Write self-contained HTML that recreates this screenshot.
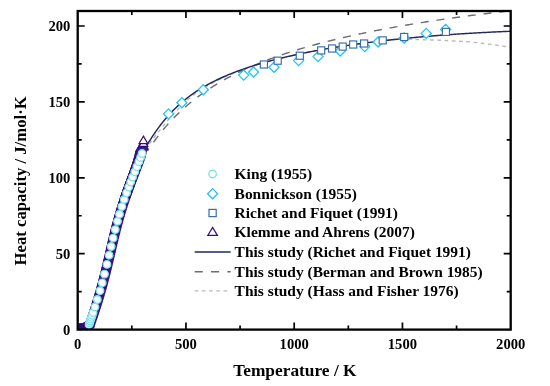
<!DOCTYPE html>
<html><head><meta charset="utf-8"><title>Heat capacity</title><style>html,body{margin:0;padding:0;background:#fff}svg{display:block}</style></head><body>
<svg width="550" height="386" viewBox="0 0 550 386" font-family="'Liberation Serif', 'Times New Roman', serif" font-weight="bold">
<rect width="550" height="386" fill="#fff"/>
<path d="M147.50,146.69 L149.33,144.07 L151.15,141.49 L152.98,138.96 L154.80,136.49 L156.63,134.10 L158.45,131.81 L160.28,129.59 L162.11,127.37 L163.93,125.11 L165.76,122.86 L167.58,120.66 L169.41,118.52 L171.23,116.43 L173.06,114.35 L174.88,112.32 L176.71,110.38 L178.54,108.48 L180.36,106.64 L182.19,104.85 L184.01,103.11 L185.84,101.43 L187.66,99.81 L189.49,98.25 L191.32,96.75 L193.14,95.32 L194.97,93.97 L196.79,92.67 L198.62,91.41 L200.44,90.20 L202.27,89.02 L204.09,87.88 L205.92,86.77 L207.75,85.70 L209.57,84.66 L211.40,83.65 L213.22,82.66 L215.05,81.71 L216.87,80.78 L218.70,79.87 L220.53,78.98 L222.35,78.11 L224.18,77.27 L226.00,76.44 L227.83,75.64 L229.65,74.85 L231.48,74.08 L233.30,73.32 L235.13,72.59 L236.96,71.87 L238.78,71.16 L240.61,70.47 L242.43,69.80 L244.26,69.14 L246.08,68.49 L247.91,67.86 L249.74,67.24 L251.56,66.64 L253.39,66.04 L255.21,65.46 L257.04,64.88 L258.86,64.32 L260.69,63.77 L262.51,63.22 L264.34,62.68 L266.17,62.16 L267.99,61.64 L269.82,61.13 L271.64,60.63 L273.47,60.14 L275.29,59.66 L277.12,59.18 L278.95,58.71 L280.77,58.25 L282.60,57.80 L284.42,57.35 L286.25,56.92 L288.07,56.48 L289.90,56.06 L291.72,55.64 L293.55,55.24 L295.38,54.83 L297.20,54.44 L299.03,54.05 L300.85,53.66 L302.68,53.29 L304.50,52.91 L306.33,52.55 L308.16,52.19 L309.98,51.83 L311.81,51.48 L313.63,51.13 L315.46,50.79 L317.28,50.45 L319.11,50.11 L320.93,49.78 L322.76,49.46 L324.59,49.14 L326.41,48.82 L328.24,48.51 L330.06,48.20 L331.89,47.90 L333.71,47.59 L335.54,47.30 L337.37,47.01 L339.19,46.72 L341.02,46.43 L342.84,46.15 L344.67,45.87 L346.49,45.60 L348.32,45.32 L350.14,45.06 L351.97,44.79 L353.80,44.53 L355.62,44.27 L357.45,44.02 L359.27,43.77 L361.10,43.52 L362.92,43.27 L364.75,43.03 L366.58,42.79 L368.40,42.56 L370.23,42.32 L372.05,42.09 L373.88,41.87 L375.70,41.64 L377.53,41.42 L379.35,41.20 L381.18,40.99 L383.01,40.77 L384.83,40.56 L386.66,40.35 L388.48,40.15 L390.31,39.95 L392.13,39.77 L393.96,39.64 L395.79,39.54 L397.61,39.47 L399.44,39.41 L401.26,39.37 L403.09,39.33 L404.91,39.29 L406.74,39.28 L408.56,39.31 L410.39,39.35 L412.22,39.40 L414.04,39.46 L415.87,39.51 L417.69,39.57 L419.52,39.65 L421.34,39.72 L423.17,39.79 L425.00,39.86 L426.82,39.91 L428.65,39.95 L430.47,39.99 L432.30,40.03 L434.12,40.07 L435.95,40.11 L437.77,40.17 L439.60,40.23 L441.43,40.30 L443.25,40.38 L445.08,40.46 L446.90,40.56 L448.73,40.66 L450.55,40.76 L452.38,40.86 L454.21,40.96 L456.03,41.06 L457.86,41.16 L459.68,41.27 L461.51,41.37 L463.33,41.48 L465.16,41.61 L466.98,41.74 L468.81,41.89 L470.64,42.05 L472.46,42.23 L474.29,42.41 L476.11,42.61 L477.94,42.81 L479.76,43.02 L481.59,43.24 L483.42,43.45 L485.24,43.68 L487.07,43.91 L488.89,44.15 L490.72,44.39 L492.54,44.64 L494.37,44.89 L496.19,45.15 L498.02,45.41 L499.85,45.67 L501.67,45.94 L503.50,46.22 L505.32,46.50 L507.15,46.78 L508.97,47.07 L510.80,47.37" fill="none" stroke="#b9b9b9" stroke-width="1.4" stroke-dasharray="3.7 3.56" stroke-dashoffset="3.85"/>
<path d="M147.80,150.38 L149.62,147.69 L151.45,145.07 L153.27,142.51 L155.10,140.01 L156.92,137.58 L158.74,135.21 L160.57,132.91 L162.39,130.66 L164.22,128.48 L166.04,126.35 L167.87,124.28 L169.69,122.26 L171.51,120.30 L173.34,118.39 L175.16,116.52 L176.99,114.71 L178.81,112.94 L180.63,111.21 L182.46,109.53 L184.28,107.89 L186.11,106.29 L187.93,104.72 L189.75,103.19 L191.58,101.70 L193.40,100.25 L195.23,98.82 L197.05,97.43 L198.88,96.07 L200.70,94.74 L202.52,93.44 L204.35,92.16 L206.17,90.91 L208.00,89.69 L209.82,88.49 L211.64,87.32 L213.47,86.17 L215.29,85.04 L217.12,83.94 L218.94,82.85 L220.76,81.79 L222.59,80.75 L224.41,79.72 L226.24,78.72 L228.06,77.73 L229.89,76.76 L231.71,75.81 L233.53,74.87 L235.36,73.95 L237.18,73.05 L239.01,72.16 L240.83,71.29 L242.65,70.43 L244.48,69.58 L246.30,68.75 L248.13,67.93 L249.95,67.13 L251.77,66.33 L253.60,65.55 L255.42,64.78 L257.25,64.03 L259.07,63.28 L260.90,62.54 L262.72,61.82 L264.54,61.11 L266.37,60.40 L268.19,59.71 L270.02,59.02 L271.84,58.35 L273.66,57.68 L275.49,57.03 L277.31,56.38 L279.14,55.74 L280.96,55.11 L282.78,54.49 L284.61,53.88 L286.43,53.27 L288.26,52.67 L290.08,52.08 L291.91,51.50 L293.73,50.92 L295.55,50.35 L297.38,49.79 L299.20,49.24 L301.03,48.69 L302.85,48.15 L304.67,47.61 L306.50,47.08 L308.32,46.56 L310.15,46.04 L311.97,45.53 L313.79,45.03 L315.62,44.53 L317.44,44.03 L319.27,43.55 L321.09,43.06 L322.92,42.59 L324.74,42.11 L326.56,41.65 L328.39,41.18 L330.21,40.73 L332.04,40.27 L333.86,39.82 L335.68,39.38 L337.51,38.94 L339.33,38.51 L341.16,38.08 L342.98,37.65 L344.81,37.23 L346.63,36.81 L348.45,36.40 L350.28,35.99 L352.10,35.59 L353.93,35.19 L355.75,34.79 L357.57,34.40 L359.40,34.01 L361.22,33.62 L363.05,33.24 L364.87,32.86 L366.69,32.48 L368.52,32.11 L370.34,31.74 L372.17,31.38 L373.99,31.02 L375.82,30.66 L377.64,30.30 L379.46,29.95 L381.29,29.60 L383.11,29.26 L384.94,28.91 L386.76,28.57 L388.58,28.24 L390.41,27.90 L392.23,27.57 L394.06,27.24 L395.88,26.92 L397.70,26.59 L399.53,26.27 L401.35,25.96 L403.18,25.64 L405.00,25.33 L406.83,25.02 L408.65,24.71 L410.47,24.40 L412.30,24.10 L414.12,23.80 L415.95,23.50 L417.77,23.21 L419.59,22.92 L421.42,22.62 L423.24,22.34 L425.07,22.05 L426.89,21.77 L428.71,21.48 L430.54,21.20 L432.36,20.93 L434.19,20.65 L436.01,20.38 L437.84,20.11 L439.66,19.84 L441.48,19.57 L443.31,19.30 L445.13,19.04 L446.96,18.78 L448.78,18.52 L450.60,18.26 L452.43,18.00 L454.25,17.75 L456.08,17.50 L457.90,17.25 L459.72,17.00 L461.55,16.75 L463.37,16.50 L465.20,16.26 L467.02,16.02 L468.85,15.78 L470.67,15.54 L472.49,15.30 L474.32,15.07 L476.14,14.83 L477.97,14.60 L479.79,14.37 L481.61,14.14 L483.44,13.91 L485.26,13.69 L487.09,13.46 L488.91,13.24 L490.73,13.02 L492.56,12.80 L494.38,12.58 L496.21,12.36 L498.03,12.14 L499.86,11.93 L501.68,11.72 L503.50,11.50 L505.33,11.29 L507.15,11.09 L508.98,10.88 L510.80,10.67" fill="none" stroke="#6e6e6e" stroke-width="1.4" stroke-dasharray="8 7.84" stroke-dashoffset="6.04"/>
<path d="M77.70,329.60 L78.79,329.60 L79.87,329.56 L80.96,329.47 L82.04,329.30 L83.13,329.01 L84.21,328.59 L85.30,328.00 L86.38,327.21 L87.47,326.19 L88.55,324.85 L89.64,322.94 L90.73,319.52 L91.81,316.31 L92.90,313.09 L93.98,309.84 L95.07,306.54 L96.15,303.19 L97.24,299.77 L98.32,296.26 L99.41,292.67 L100.49,288.96 L101.58,285.14 L102.67,281.20 L103.75,277.12 L104.84,272.91 L105.92,268.58 L107.01,264.13 L108.09,259.58 L109.18,254.96 L110.26,250.32 L111.35,245.68 L112.43,241.09 L113.52,236.60 L114.61,232.21 L115.69,227.96 L116.78,223.86 L117.86,219.91 L118.95,216.10 L120.03,212.44 L121.12,208.91 L122.20,205.50 L123.29,202.21 L124.37,199.02 L125.46,195.92 L126.55,192.90 L127.63,189.96 L128.72,187.08 L129.80,184.26 L130.89,181.49 L131.97,178.75 L133.06,176.04 L134.14,173.36 L135.23,170.69 L136.32,168.02 L137.40,165.35 L138.49,162.66 L139.57,159.95 L140.66,157.18 L141.74,154.28 L142.83,151.93 L143.91,150.01 L145.00,148.25 L146.08,146.48 L147.17,144.71 L148.26,142.96 L149.34,141.24 L150.43,139.53 L151.51,137.85 L152.60,136.20 L153.68,134.58 L154.77,132.98 L155.85,131.42 L156.94,129.88 L158.02,128.38 L159.11,126.90 L160.20,125.46 L161.28,124.05 L162.37,122.66 L163.45,121.31 L164.54,119.98 L165.62,118.69 L166.71,117.42 L167.79,116.18 L168.88,114.96 L169.96,113.77 L171.05,112.61 L172.14,111.48 L173.22,110.36 L174.31,109.28 L175.39,108.21 L176.48,107.17 L177.56,106.15 L178.65,105.15 L179.73,104.17 L180.82,103.22 L181.90,102.28 L182.99,101.36 L184.08,100.46 L185.16,99.58 L186.25,98.72 L187.33,97.87 L188.42,97.04 L189.50,96.23 L190.59,95.43 L191.67,94.65 L192.76,93.88 L193.84,93.13 L194.93,92.39 L196.02,91.66 L197.10,90.95 L198.19,90.25 L199.27,89.56 L200.36,88.89 L201.44,88.23 L202.53,87.58 L203.61,86.94 L204.70,86.31 L205.78,85.69 L206.87,85.08 L207.96,84.48 L209.04,83.89 L210.13,83.31 L211.21,82.74 L212.30,82.18 L213.38,81.63 L214.47,81.08 L215.55,80.55 L216.64,80.02 L217.72,79.50 L218.81,78.99 L219.90,78.48 L220.98,77.98 L222.07,77.49 L223.15,77.01 L224.24,76.53 L225.32,76.06 L226.41,75.60 L227.49,75.14 L228.58,74.69 L229.66,74.24 L230.75,73.80 L231.84,73.37 L232.92,72.94 L234.01,72.52 L235.09,72.10 L236.18,71.69 L237.26,71.28 L238.35,70.88 L239.43,70.48 L240.52,70.09 L241.61,69.70 L242.69,69.32 L243.78,68.94 L244.86,68.57 L245.95,68.20 L247.03,67.83 L248.12,67.47 L249.20,67.11 L250.29,66.76 L251.37,66.41 L252.46,66.07 L253.55,65.72 L254.63,65.38 L255.72,65.05 L256.80,64.72 L257.89,64.39 L258.97,64.07 L260.06,63.75 L261.14,63.43 L262.23,63.11 L263.31,62.80 L264.40,62.50 L265.49,62.19 L266.57,61.89 L267.66,61.59 L268.74,61.29 L269.83,61.00 L270.91,60.71 L272.00,60.42 L273.08,60.14 L274.17,59.85 L275.25,59.58 L276.34,59.30 L277.43,59.02 L278.51,58.75 L279.60,58.48 L280.68,58.22 L281.77,57.95 L282.85,57.69 L283.94,57.43 L285.02,57.17 L286.11,56.92 L287.19,56.66 L288.28,56.41 L289.37,56.17 L290.45,55.92 L291.54,55.68 L292.62,55.43 L293.71,55.19 L294.79,54.96 L295.88,54.72 L296.96,54.49 L298.05,54.25 L299.13,54.02 L300.22,53.80 L301.31,53.57 L302.39,53.35 L303.48,53.12 L304.56,52.90 L305.65,52.68 L306.73,52.47 L307.82,52.25 L308.90,52.04 L309.99,51.83 L311.07,51.62 L312.16,51.41 L313.25,51.20 L314.33,51.00 L315.42,50.79 L316.50,50.59 L317.59,50.39 L318.67,50.19 L319.76,50.00 L320.84,49.80 L321.93,49.61 L323.01,49.41 L324.10,49.22 L325.19,49.03 L326.27,48.85 L327.36,48.66 L328.44,48.47 L329.53,48.29 L330.61,48.11 L331.70,47.93 L332.78,47.75 L333.87,47.57 L334.95,47.39 L336.04,47.22 L337.13,47.04 L338.21,46.87 L339.30,46.70 L340.38,46.53 L341.47,46.36 L342.55,46.19 L343.64,46.03 L344.72,45.86 L345.81,45.70 L346.89,45.54 L347.98,45.37 L349.07,45.21 L350.15,45.06 L351.24,44.90 L352.32,44.74 L353.41,44.59 L354.49,44.43 L355.58,44.28 L356.66,44.13 L357.75,43.98 L358.84,43.83 L359.92,43.68 L361.01,43.53 L362.09,43.38 L363.18,43.24 L364.26,43.10 L365.35,42.95 L366.43,42.81 L367.52,42.67 L368.60,42.53 L369.69,42.39 L370.78,42.25 L371.86,42.12 L372.95,41.98 L374.03,41.85 L375.12,41.71 L376.20,41.58 L377.29,41.45 L378.37,41.32 L379.46,41.19 L380.54,41.06 L381.63,40.93 L382.72,40.81 L383.80,40.68 L384.89,40.56 L385.97,40.43 L387.06,40.31 L388.14,40.19 L389.23,40.07 L390.31,39.95 L391.40,39.83 L392.48,39.71 L393.57,39.59 L394.66,39.47 L395.74,39.36 L396.83,39.24 L397.91,39.13 L399.00,39.02 L400.08,38.90 L401.17,38.79 L402.25,38.68 L403.34,38.57 L404.42,38.46 L405.51,38.36 L406.60,38.25 L407.68,38.14 L408.77,38.04 L409.85,37.93 L410.94,37.83 L412.02,37.73 L413.11,37.62 L414.19,37.52 L415.28,37.42 L416.36,37.32 L417.45,37.22 L418.54,37.13 L419.62,37.03 L420.71,36.93 L421.79,36.84 L422.88,36.74 L423.96,36.65 L425.05,36.55 L426.13,36.46 L427.22,36.37 L428.30,36.28 L429.39,36.19 L430.48,36.10 L431.56,36.01 L432.65,35.92 L433.73,35.83 L434.82,35.75 L435.90,35.66 L436.99,35.57 L438.07,35.49 L439.16,35.40 L440.24,35.32 L441.33,35.24 L442.42,35.16 L443.50,35.08 L444.59,35.00 L445.67,34.92 L446.76,34.84 L447.84,34.76 L448.93,34.68 L450.01,34.60 L451.10,34.53 L452.18,34.45 L453.27,34.38 L454.36,34.30 L455.44,34.23 L456.53,34.15 L457.61,34.08 L458.70,34.01 L459.78,33.94 L460.87,33.87 L461.95,33.80 L463.04,33.73 L464.13,33.66 L465.21,33.59 L466.30,33.53 L467.38,33.46 L468.47,33.39 L469.55,33.33 L470.64,33.26 L471.72,33.20 L472.81,33.13 L473.89,33.07 L474.98,33.01 L476.07,32.95 L477.15,32.89 L478.24,32.82 L479.32,32.76 L480.41,32.70 L481.49,32.65 L482.58,32.59 L483.66,32.53 L484.75,32.47 L485.83,32.42 L486.92,32.36 L488.01,32.30 L489.09,32.25 L490.18,32.20 L491.26,32.14 L492.35,32.09 L493.43,32.04 L494.52,31.98 L495.60,31.93 L496.69,31.88 L497.77,31.83 L498.86,31.78 L499.95,31.73 L501.03,31.68 L502.12,31.63 L503.20,31.59 L504.29,31.54 L505.37,31.49 L506.46,31.45 L507.54,31.40 L508.63,31.36 L509.71,31.31 L510.80,31.27" fill="none" stroke="#1f2a5e" stroke-width="1.45"/>
<clipPath id="cp"><rect x="77.7" y="11.0" width="433.0" height="318.6"/></clipPath>
<defs><path id="k" d="M0,-4.05 L4.4,3.45 L-4.4,3.45Z"/></defs>
<g clip-path="url(#cp)" fill="#fff" stroke="#36107a" stroke-width="1.2"><use href="#k" x="77.81" y="328.65"/><use href="#k" x="77.94" y="328.65"/><use href="#k" x="78.07" y="328.65"/><use href="#k" x="78.20" y="328.64"/><use href="#k" x="78.33" y="328.64"/><use href="#k" x="78.46" y="328.64"/><use href="#k" x="78.59" y="328.64"/><use href="#k" x="78.72" y="328.64"/><use href="#k" x="78.85" y="328.63"/><use href="#k" x="78.98" y="328.63"/><use href="#k" x="79.11" y="328.63"/><use href="#k" x="79.24" y="328.62"/><use href="#k" x="79.37" y="328.62"/><use href="#k" x="79.50" y="328.61"/><use href="#k" x="79.63" y="328.61"/><use href="#k" x="79.76" y="328.60"/><use href="#k" x="79.89" y="328.59"/><use href="#k" x="80.02" y="328.58"/><use href="#k" x="80.15" y="328.57"/><use href="#k" x="80.28" y="328.56"/><use href="#k" x="80.41" y="328.55"/><use href="#k" x="80.54" y="328.54"/><use href="#k" x="80.67" y="328.53"/><use href="#k" x="80.80" y="328.51"/><use href="#k" x="80.93" y="328.50"/><use href="#k" x="81.06" y="328.48"/><use href="#k" x="81.19" y="328.46"/><use href="#k" x="81.32" y="328.44"/><use href="#k" x="81.45" y="328.42"/><use href="#k" x="81.58" y="328.40"/><use href="#k" x="81.71" y="328.38"/><use href="#k" x="81.84" y="328.35"/><use href="#k" x="81.97" y="328.33"/><use href="#k" x="82.09" y="328.30"/><use href="#k" x="82.22" y="328.27"/><use href="#k" x="82.35" y="328.24"/><use href="#k" x="82.48" y="328.21"/><use href="#k" x="82.61" y="328.17"/><use href="#k" x="82.74" y="328.13"/><use href="#k" x="82.87" y="328.09"/><use href="#k" x="83.00" y="328.05"/><use href="#k" x="83.13" y="328.01"/><use href="#k" x="83.26" y="327.97"/><use href="#k" x="83.39" y="327.92"/><use href="#k" x="83.52" y="327.87"/><use href="#k" x="83.65" y="327.82"/><use href="#k" x="83.78" y="327.77"/><use href="#k" x="83.91" y="327.72"/><use href="#k" x="84.04" y="327.66"/><use href="#k" x="84.17" y="327.60"/><use href="#k" x="84.30" y="327.54"/><use href="#k" x="84.43" y="327.47"/><use href="#k" x="84.56" y="327.41"/><use href="#k" x="84.69" y="327.34"/><use href="#k" x="84.82" y="327.26"/><use href="#k" x="84.95" y="327.19"/><use href="#k" x="85.08" y="327.11"/><use href="#k" x="85.21" y="327.03"/><use href="#k" x="85.34" y="326.95"/><use href="#k" x="85.47" y="326.86"/><use href="#k" x="85.60" y="326.77"/><use href="#k" x="85.73" y="326.68"/><use href="#k" x="85.86" y="326.59"/><use href="#k" x="85.99" y="326.49"/><use href="#k" x="86.12" y="326.39"/><use href="#k" x="86.25" y="326.28"/><use href="#k" x="86.38" y="326.18"/><use href="#k" x="86.51" y="326.07"/><use href="#k" x="86.64" y="325.95"/><use href="#k" x="86.77" y="325.84"/><use href="#k" x="86.90" y="325.72"/><use href="#k" x="87.03" y="325.59"/><use href="#k" x="87.16" y="325.47"/><use href="#k" x="87.29" y="325.34"/><use href="#k" x="87.42" y="325.20"/><use href="#k" x="87.55" y="325.06"/><use href="#k" x="87.68" y="324.92"/><use href="#k" x="87.81" y="324.77"/><use href="#k" x="87.94" y="324.61"/><use href="#k" x="88.07" y="324.44"/><use href="#k" x="88.20" y="324.26"/><use href="#k" x="88.33" y="324.09"/><use href="#k" x="88.46" y="323.92"/><use href="#k" x="88.59" y="323.76"/><use href="#k" x="88.72" y="323.62"/><use href="#k" x="88.85" y="323.51"/><use href="#k" x="88.98" y="323.43"/><use href="#k" x="89.11" y="323.30"/><use href="#k" x="89.24" y="323.08"/><use href="#k" x="89.37" y="322.76"/><use href="#k" x="89.50" y="322.36"/><use href="#k" x="89.63" y="321.92"/><use href="#k" x="89.76" y="321.45"/><use href="#k" x="89.89" y="320.99"/><use href="#k" x="90.02" y="320.55"/><use href="#k" x="90.15" y="320.16"/><use href="#k" x="90.28" y="319.77"/><use href="#k" x="90.41" y="319.39"/><use href="#k" x="90.54" y="319.00"/><use href="#k" x="90.67" y="318.62"/><use href="#k" x="90.80" y="318.23"/><use href="#k" x="90.93" y="317.85"/><use href="#k" x="91.06" y="317.46"/><use href="#k" x="91.19" y="317.08"/><use href="#k" x="91.32" y="316.69"/><use href="#k" x="91.45" y="316.31"/><use href="#k" x="91.58" y="315.92"/><use href="#k" x="91.71" y="315.54"/><use href="#k" x="91.84" y="315.15"/><use href="#k" x="91.97" y="314.77"/><use href="#k" x="92.10" y="314.38"/><use href="#k" x="92.23" y="314.00"/><use href="#k" x="92.36" y="313.61"/><use href="#k" x="92.49" y="313.22"/><use href="#k" x="92.62" y="312.84"/><use href="#k" x="92.75" y="312.45"/><use href="#k" x="92.88" y="312.06"/><use href="#k" x="93.01" y="311.67"/><use href="#k" x="93.14" y="311.28"/><use href="#k" x="93.27" y="310.89"/><use href="#k" x="93.40" y="310.50"/><use href="#k" x="93.53" y="310.11"/><use href="#k" x="93.66" y="309.72"/><use href="#k" x="93.79" y="309.33"/><use href="#k" x="93.92" y="308.94"/><use href="#k" x="94.05" y="308.55"/><use href="#k" x="94.18" y="308.15"/><use href="#k" x="94.31" y="307.76"/><use href="#k" x="94.44" y="307.36"/><use href="#k" x="94.57" y="306.97"/><use href="#k" x="94.70" y="306.57"/><use href="#k" x="94.83" y="306.18"/><use href="#k" x="94.96" y="305.78"/><use href="#k" x="95.08" y="305.38"/><use href="#k" x="95.21" y="304.98"/><use href="#k" x="95.34" y="304.58"/><use href="#k" x="95.47" y="304.18"/><use href="#k" x="95.60" y="303.78"/><use href="#k" x="95.73" y="303.37"/><use href="#k" x="95.86" y="302.97"/><use href="#k" x="95.99" y="302.57"/><use href="#k" x="96.12" y="302.16"/><use href="#k" x="96.25" y="301.75"/><use href="#k" x="96.38" y="301.35"/><use href="#k" x="96.51" y="300.94"/><use href="#k" x="96.64" y="300.53"/><use href="#k" x="96.77" y="300.12"/><use href="#k" x="96.90" y="299.70"/><use href="#k" x="97.03" y="299.29"/><use href="#k" x="97.16" y="298.88"/><use href="#k" x="97.29" y="298.46"/><use href="#k" x="97.42" y="298.05"/><use href="#k" x="97.55" y="297.63"/><use href="#k" x="97.68" y="297.21"/><use href="#k" x="97.81" y="296.79"/><use href="#k" x="97.94" y="296.37"/><use href="#k" x="98.07" y="295.94"/><use href="#k" x="98.20" y="295.52"/><use href="#k" x="98.33" y="295.09"/><use href="#k" x="98.46" y="294.67"/><use href="#k" x="98.59" y="294.24"/><use href="#k" x="98.72" y="293.81"/><use href="#k" x="98.85" y="293.38"/><use href="#k" x="98.98" y="292.95"/><use href="#k" x="99.11" y="292.51"/><use href="#k" x="99.24" y="292.08"/><use href="#k" x="99.37" y="291.64"/><use href="#k" x="99.50" y="291.20"/><use href="#k" x="99.63" y="290.76"/><use href="#k" x="99.76" y="290.32"/><use href="#k" x="99.89" y="289.88"/><use href="#k" x="100.02" y="289.43"/><use href="#k" x="100.15" y="288.99"/><use href="#k" x="100.28" y="288.54"/><use href="#k" x="100.41" y="288.09"/><use href="#k" x="100.54" y="287.64"/><use href="#k" x="100.67" y="287.19"/><use href="#k" x="100.80" y="286.73"/><use href="#k" x="100.93" y="286.28"/><use href="#k" x="101.06" y="285.82"/><use href="#k" x="101.19" y="285.36"/><use href="#k" x="101.32" y="284.90"/><use href="#k" x="101.45" y="284.44"/><use href="#k" x="101.58" y="283.97"/><use href="#k" x="101.71" y="283.51"/><use href="#k" x="101.84" y="283.04"/><use href="#k" x="101.97" y="282.57"/><use href="#k" x="102.10" y="282.09"/><use href="#k" x="102.23" y="281.62"/><use href="#k" x="102.36" y="281.15"/><use href="#k" x="102.49" y="280.67"/><use href="#k" x="102.62" y="280.19"/><use href="#k" x="102.75" y="279.71"/><use href="#k" x="102.88" y="279.22"/><use href="#k" x="103.01" y="278.74"/><use href="#k" x="103.14" y="278.25"/><use href="#k" x="103.27" y="277.76"/><use href="#k" x="103.40" y="277.27"/><use href="#k" x="103.53" y="276.78"/><use href="#k" x="103.66" y="276.29"/><use href="#k" x="103.79" y="275.79"/><use href="#k" x="103.92" y="275.29"/><use href="#k" x="104.05" y="274.79"/><use href="#k" x="104.18" y="274.29"/><use href="#k" x="104.31" y="273.78"/><use href="#k" x="104.44" y="273.28"/><use href="#k" x="104.57" y="272.77"/><use href="#k" x="104.70" y="272.26"/><use href="#k" x="104.83" y="271.75"/><use href="#k" x="104.96" y="271.24"/><use href="#k" x="105.09" y="270.72"/><use href="#k" x="105.22" y="270.20"/><use href="#k" x="105.35" y="269.69"/><use href="#k" x="105.48" y="269.16"/><use href="#k" x="105.61" y="268.64"/><use href="#k" x="105.74" y="268.12"/><use href="#k" x="105.87" y="267.59"/><use href="#k" x="106.00" y="267.07"/><use href="#k" x="106.13" y="266.54"/><use href="#k" x="106.26" y="266.01"/><use href="#k" x="106.39" y="265.47"/><use href="#k" x="106.52" y="264.94"/><use href="#k" x="106.65" y="264.40"/><use href="#k" x="106.78" y="263.87"/><use href="#k" x="106.91" y="263.33"/><use href="#k" x="107.04" y="262.79"/><use href="#k" x="107.17" y="262.25"/><use href="#k" x="107.30" y="261.70"/><use href="#k" x="107.43" y="261.16"/><use href="#k" x="107.56" y="260.62"/><use href="#k" x="107.69" y="260.07"/><use href="#k" x="107.82" y="259.52"/><use href="#k" x="107.95" y="258.97"/><use href="#k" x="108.07" y="258.42"/><use href="#k" x="108.20" y="257.87"/><use href="#k" x="108.33" y="257.32"/><use href="#k" x="108.46" y="256.77"/><use href="#k" x="108.59" y="256.22"/><use href="#k" x="108.72" y="255.66"/><use href="#k" x="108.85" y="255.11"/><use href="#k" x="108.98" y="254.55"/><use href="#k" x="109.11" y="254.00"/><use href="#k" x="109.24" y="253.44"/><use href="#k" x="109.37" y="252.88"/><use href="#k" x="109.50" y="252.33"/><use href="#k" x="109.63" y="251.77"/><use href="#k" x="109.76" y="251.21"/><use href="#k" x="109.89" y="250.66"/><use href="#k" x="110.02" y="250.10"/><use href="#k" x="110.15" y="249.54"/><use href="#k" x="110.28" y="248.97"/><use href="#k" x="110.41" y="248.41"/><use href="#k" x="110.54" y="247.84"/><use href="#k" x="110.67" y="247.27"/><use href="#k" x="110.80" y="246.71"/><use href="#k" x="110.93" y="246.14"/><use href="#k" x="111.06" y="245.57"/><use href="#k" x="111.19" y="245.01"/><use href="#k" x="111.32" y="244.44"/><use href="#k" x="111.45" y="243.88"/><use href="#k" x="111.58" y="243.32"/><use href="#k" x="111.71" y="242.76"/><use href="#k" x="111.84" y="242.19"/><use href="#k" x="111.97" y="241.64"/><use href="#k" x="112.10" y="241.08"/><use href="#k" x="112.23" y="240.52"/><use href="#k" x="112.36" y="239.96"/><use href="#k" x="112.49" y="239.41"/><use href="#k" x="112.62" y="238.85"/><use href="#k" x="112.75" y="238.30"/><use href="#k" x="112.88" y="237.75"/><use href="#k" x="113.01" y="237.20"/><use href="#k" x="113.14" y="236.65"/><use href="#k" x="113.27" y="236.10"/><use href="#k" x="113.40" y="235.55"/><use href="#k" x="113.53" y="235.01"/><use href="#k" x="113.66" y="234.47"/><use href="#k" x="113.79" y="233.93"/><use href="#k" x="113.92" y="233.39"/><use href="#k" x="114.05" y="232.85"/><use href="#k" x="114.18" y="232.32"/><use href="#k" x="114.31" y="231.78"/><use href="#k" x="114.44" y="231.25"/><use href="#k" x="114.57" y="230.72"/><use href="#k" x="114.70" y="230.19"/><use href="#k" x="114.83" y="229.67"/><use href="#k" x="114.96" y="229.15"/><use href="#k" x="115.09" y="228.62"/><use href="#k" x="115.22" y="228.10"/><use href="#k" x="115.35" y="227.59"/><use href="#k" x="115.48" y="227.07"/><use href="#k" x="115.61" y="226.56"/><use href="#k" x="115.74" y="226.05"/><use href="#k" x="115.87" y="225.54"/><use href="#k" x="116.00" y="225.03"/><use href="#k" x="116.13" y="224.52"/><use href="#k" x="116.26" y="224.02"/><use href="#k" x="116.39" y="223.52"/><use href="#k" x="116.52" y="223.02"/><use href="#k" x="116.65" y="222.52"/><use href="#k" x="116.78" y="222.03"/><use href="#k" x="116.91" y="221.54"/><use href="#k" x="117.04" y="221.05"/><use href="#k" x="117.17" y="220.56"/><use href="#k" x="117.30" y="220.07"/><use href="#k" x="117.43" y="219.59"/><use href="#k" x="117.56" y="219.11"/><use href="#k" x="117.69" y="218.63"/><use href="#k" x="117.82" y="218.15"/><use href="#k" x="117.95" y="217.68"/><use href="#k" x="118.08" y="217.20"/><use href="#k" x="118.21" y="216.73"/><use href="#k" x="118.34" y="216.26"/><use href="#k" x="118.47" y="215.80"/><use href="#k" x="118.60" y="215.33"/><use href="#k" x="118.73" y="214.87"/><use href="#k" x="118.86" y="214.41"/><use href="#k" x="118.99" y="213.95"/><use href="#k" x="119.12" y="213.49"/><use href="#k" x="119.25" y="213.04"/><use href="#k" x="119.38" y="212.59"/><use href="#k" x="119.51" y="212.14"/><use href="#k" x="119.64" y="211.69"/><use href="#k" x="119.77" y="211.24"/><use href="#k" x="119.90" y="210.80"/><use href="#k" x="120.03" y="210.35"/><use href="#k" x="120.16" y="209.91"/><use href="#k" x="120.29" y="209.47"/><use href="#k" x="120.42" y="209.04"/><use href="#k" x="120.55" y="208.60"/><use href="#k" x="120.68" y="208.17"/><use href="#k" x="120.81" y="207.74"/><use href="#k" x="120.94" y="207.31"/><use href="#k" x="121.06" y="206.88"/><use href="#k" x="121.19" y="206.45"/><use href="#k" x="121.32" y="206.03"/><use href="#k" x="121.45" y="205.61"/><use href="#k" x="121.58" y="205.19"/><use href="#k" x="121.71" y="204.77"/><use href="#k" x="121.84" y="204.35"/><use href="#k" x="121.97" y="203.93"/><use href="#k" x="122.10" y="203.52"/><use href="#k" x="122.23" y="203.11"/><use href="#k" x="122.36" y="202.70"/><use href="#k" x="122.49" y="202.29"/><use href="#k" x="122.62" y="201.88"/><use href="#k" x="122.75" y="201.47"/><use href="#k" x="122.88" y="201.07"/><use href="#k" x="123.01" y="200.66"/><use href="#k" x="123.14" y="200.26"/><use href="#k" x="123.27" y="199.86"/><use href="#k" x="123.40" y="199.46"/><use href="#k" x="123.53" y="199.07"/><use href="#k" x="123.66" y="198.67"/><use href="#k" x="123.79" y="198.28"/><use href="#k" x="123.92" y="197.88"/><use href="#k" x="124.05" y="197.49"/><use href="#k" x="124.18" y="197.10"/><use href="#k" x="124.31" y="196.71"/><use href="#k" x="124.44" y="196.33"/><use href="#k" x="124.57" y="195.94"/><use href="#k" x="124.70" y="195.56"/><use href="#k" x="124.83" y="195.17"/><use href="#k" x="124.91" y="194.79"/><use href="#k" x="124.96" y="194.79"/><use href="#k" x="125.04" y="194.41"/><use href="#k" x="125.09" y="194.41"/><use href="#k" x="125.16" y="194.03"/><use href="#k" x="125.22" y="194.03"/><use href="#k" x="125.29" y="193.65"/><use href="#k" x="125.35" y="193.65"/><use href="#k" x="125.41" y="193.27"/><use href="#k" x="125.48" y="193.27"/><use href="#k" x="125.54" y="192.90"/><use href="#k" x="125.61" y="192.90"/><use href="#k" x="125.67" y="192.52"/><use href="#k" x="125.74" y="192.52"/><use href="#k" x="125.79" y="192.15"/><use href="#k" x="125.87" y="192.15"/><use href="#k" x="125.92" y="191.77"/><use href="#k" x="126.00" y="191.77"/><use href="#k" x="126.05" y="191.40"/><use href="#k" x="126.13" y="191.40"/><use href="#k" x="126.17" y="191.03"/><use href="#k" x="126.26" y="191.03"/><use href="#k" x="126.30" y="190.66"/><use href="#k" x="126.39" y="190.66"/><use href="#k" x="126.42" y="190.30"/><use href="#k" x="126.52" y="190.30"/><use href="#k" x="126.55" y="189.93"/><use href="#k" x="126.65" y="189.93"/><use href="#k" x="126.68" y="189.56"/><use href="#k" x="126.78" y="189.56"/><use href="#k" x="126.80" y="189.20"/><use href="#k" x="126.91" y="189.20"/><use href="#k" x="126.93" y="188.83"/><use href="#k" x="127.04" y="188.83"/><use href="#k" x="127.05" y="188.47"/><use href="#k" x="127.17" y="188.47"/><use href="#k" x="127.18" y="188.11"/><use href="#k" x="127.30" y="188.11"/><use href="#k" x="127.31" y="187.75"/><use href="#k" x="127.43" y="187.75"/><use href="#k" x="127.43" y="187.38"/><use href="#k" x="127.56" y="187.38"/><use href="#k" x="127.56" y="187.03"/><use href="#k" x="127.69" y="187.03"/><use href="#k" x="127.69" y="186.67"/><use href="#k" x="127.82" y="186.67"/><use href="#k" x="127.81" y="186.31"/><use href="#k" x="127.95" y="186.31"/><use href="#k" x="127.94" y="185.95"/><use href="#k" x="128.08" y="185.95"/><use href="#k" x="128.07" y="185.60"/><use href="#k" x="128.21" y="185.60"/><use href="#k" x="128.19" y="185.24"/><use href="#k" x="128.34" y="185.24"/><use href="#k" x="128.32" y="184.89"/><use href="#k" x="128.47" y="184.89"/><use href="#k" x="128.44" y="184.53"/><use href="#k" x="128.60" y="184.53"/><use href="#k" x="128.57" y="184.18"/><use href="#k" x="128.73" y="184.18"/><use href="#k" x="128.70" y="183.83"/><use href="#k" x="128.86" y="183.83"/><use href="#k" x="128.82" y="183.48"/><use href="#k" x="128.99" y="183.48"/><use href="#k" x="128.95" y="183.13"/><use href="#k" x="129.12" y="183.13"/><use href="#k" x="129.08" y="182.78"/><use href="#k" x="129.25" y="182.78"/><use href="#k" x="129.20" y="182.43"/><use href="#k" x="129.38" y="182.43"/><use href="#k" x="129.33" y="182.08"/><use href="#k" x="129.51" y="182.08"/><use href="#k" x="129.46" y="181.73"/><use href="#k" x="129.64" y="181.73"/><use href="#k" x="129.58" y="181.39"/><use href="#k" x="129.77" y="181.39"/><use href="#k" x="129.71" y="181.04"/><use href="#k" x="129.90" y="181.04"/><use href="#k" x="129.84" y="180.70"/><use href="#k" x="130.03" y="180.70"/><use href="#k" x="129.96" y="180.35"/><use href="#k" x="130.16" y="180.35"/><use href="#k" x="130.09" y="180.01"/><use href="#k" x="130.29" y="180.01"/><use href="#k" x="130.21" y="179.66"/><use href="#k" x="130.42" y="179.66"/><use href="#k" x="130.34" y="179.32"/><use href="#k" x="130.55" y="179.32"/><use href="#k" x="130.47" y="178.98"/><use href="#k" x="130.68" y="178.98"/><use href="#k" x="130.59" y="178.64"/><use href="#k" x="130.81" y="178.64"/><use href="#k" x="130.72" y="178.30"/><use href="#k" x="130.94" y="178.30"/><use href="#k" x="130.85" y="177.96"/><use href="#k" x="131.07" y="177.96"/><use href="#k" x="130.97" y="177.62"/><use href="#k" x="131.20" y="177.62"/><use href="#k" x="131.10" y="177.28"/><use href="#k" x="131.33" y="177.28"/><use href="#k" x="131.23" y="176.94"/><use href="#k" x="131.46" y="176.94"/><use href="#k" x="131.35" y="176.60"/><use href="#k" x="131.59" y="176.60"/><use href="#k" x="131.48" y="176.26"/><use href="#k" x="131.72" y="176.26"/><use href="#k" x="131.61" y="175.92"/><use href="#k" x="131.85" y="175.92"/><use href="#k" x="131.73" y="175.59"/><use href="#k" x="131.98" y="175.59"/><use href="#k" x="131.86" y="175.25"/><use href="#k" x="132.11" y="175.25"/><use href="#k" x="131.99" y="174.91"/><use href="#k" x="132.24" y="174.91"/><use href="#k" x="132.11" y="174.58"/><use href="#k" x="132.37" y="174.58"/><use href="#k" x="132.24" y="174.24"/><use href="#k" x="132.50" y="174.24"/><use href="#k" x="132.37" y="173.91"/><use href="#k" x="132.63" y="173.91"/><use href="#k" x="132.49" y="173.57"/><use href="#k" x="132.76" y="173.57"/><use href="#k" x="132.62" y="173.24"/><use href="#k" x="132.89" y="173.24"/><use href="#k" x="132.74" y="172.91"/><use href="#k" x="133.02" y="172.91"/><use href="#k" x="132.87" y="172.57"/><use href="#k" x="133.15" y="172.57"/><use href="#k" x="133.00" y="172.24"/><use href="#k" x="133.28" y="172.24"/><use href="#k" x="133.12" y="171.91"/><use href="#k" x="133.41" y="171.91"/><use href="#k" x="133.25" y="171.57"/><use href="#k" x="133.54" y="171.57"/><use href="#k" x="133.38" y="171.24"/><use href="#k" x="133.67" y="171.24"/><use href="#k" x="133.50" y="170.91"/><use href="#k" x="133.80" y="170.91"/><use href="#k" x="133.63" y="170.58"/><use href="#k" x="133.93" y="170.58"/><use href="#k" x="133.76" y="170.24"/><use href="#k" x="134.05" y="170.24"/><use href="#k" x="133.88" y="169.91"/><use href="#k" x="134.18" y="169.91"/><use href="#k" x="134.00" y="169.58"/><use href="#k" x="134.31" y="169.58"/><use href="#k" x="134.11" y="169.25"/><use href="#k" x="134.44" y="169.25"/><use href="#k" x="134.23" y="168.92"/><use href="#k" x="134.57" y="168.92"/><use href="#k" x="134.35" y="168.59"/><use href="#k" x="134.70" y="168.59"/><use href="#k" x="134.46" y="168.26"/><use href="#k" x="134.83" y="168.26"/><use href="#k" x="134.58" y="167.93"/><use href="#k" x="134.96" y="167.93"/><use href="#k" x="134.69" y="167.60"/><use href="#k" x="135.09" y="167.60"/><use href="#k" x="134.81" y="167.27"/><use href="#k" x="135.22" y="167.27"/><use href="#k" x="134.93" y="166.94"/><use href="#k" x="135.35" y="166.94"/><use href="#k" x="135.04" y="166.61"/><use href="#k" x="135.48" y="166.61"/><use href="#k" x="135.16" y="166.28"/><use href="#k" x="135.61" y="166.28"/><use href="#k" x="135.27" y="165.95"/><use href="#k" x="135.74" y="165.95"/><use href="#k" x="135.39" y="165.62"/><use href="#k" x="135.87" y="165.62"/><use href="#k" x="135.51" y="165.28"/><use href="#k" x="136.00" y="165.28"/><use href="#k" x="135.62" y="164.95"/><use href="#k" x="136.13" y="164.95"/><use href="#k" x="135.74" y="164.62"/><use href="#k" x="136.26" y="164.62"/><use href="#k" x="135.86" y="164.29"/><use href="#k" x="136.39" y="164.29"/><use href="#k" x="135.97" y="163.96"/><use href="#k" x="136.52" y="163.96"/><use href="#k" x="136.09" y="163.63"/><use href="#k" x="136.65" y="163.63"/><use href="#k" x="136.20" y="163.30"/><use href="#k" x="136.78" y="163.30"/><use href="#k" x="136.32" y="162.97"/><use href="#k" x="136.91" y="162.97"/><use href="#k" x="136.44" y="162.64"/><use href="#k" x="137.04" y="162.64"/><use href="#k" x="136.55" y="162.31"/><use href="#k" x="137.17" y="162.31"/><use href="#k" x="136.67" y="161.98"/><use href="#k" x="137.30" y="161.98"/><use href="#k" x="136.78" y="161.64"/><use href="#k" x="137.43" y="161.64"/><use href="#k" x="136.90" y="161.31"/><use href="#k" x="137.56" y="161.31"/><use href="#k" x="137.02" y="160.97"/><use href="#k" x="137.69" y="160.97"/><use href="#k" x="137.13" y="160.60"/><use href="#k" x="137.82" y="160.60"/><use href="#k" x="137.25" y="160.23"/><use href="#k" x="137.95" y="160.23"/><use href="#k" x="137.36" y="159.86"/><use href="#k" x="138.08" y="159.86"/><use href="#k" x="137.47" y="159.49"/><use href="#k" x="138.21" y="159.49"/><use href="#k" x="137.59" y="159.12"/><use href="#k" x="138.34" y="159.12"/><use href="#k" x="137.70" y="158.75"/><use href="#k" x="138.47" y="158.75"/><use href="#k" x="137.82" y="158.38"/><use href="#k" x="138.60" y="158.38"/><use href="#k" x="137.93" y="158.01"/><use href="#k" x="138.73" y="158.01"/><use href="#k" x="138.04" y="157.63"/><use href="#k" x="138.86" y="157.63"/><use href="#k" x="138.15" y="157.26"/><use href="#k" x="138.99" y="157.26"/><use href="#k" x="138.27" y="156.89"/><use href="#k" x="139.12" y="156.89"/><use href="#k" x="138.38" y="156.51"/><use href="#k" x="139.25" y="156.51"/><use href="#k" x="138.49" y="156.14"/><use href="#k" x="139.38" y="156.14"/><use href="#k" x="138.60" y="155.76"/><use href="#k" x="139.51" y="155.76"/><use href="#k" x="138.71" y="155.39"/><use href="#k" x="139.64" y="155.39"/><use href="#k" x="138.82" y="155.01"/><use href="#k" x="139.77" y="155.01"/><use href="#k" x="138.93" y="154.63"/><use href="#k" x="139.90" y="154.63"/><use href="#k" x="139.04" y="154.25"/><use href="#k" x="140.03" y="154.25"/><use href="#k" x="139.15" y="153.87"/><use href="#k" x="140.16" y="153.87"/><use href="#k" x="139.26" y="153.49"/><use href="#k" x="140.29" y="153.49"/><use href="#k" x="139.38" y="153.11"/><use href="#k" x="140.42" y="153.11"/><use href="#k" x="139.48" y="152.65"/><use href="#k" x="140.55" y="152.65"/><use href="#k" x="139.59" y="152.11"/><use href="#k" x="140.68" y="152.11"/><use href="#k" x="139.69" y="151.57"/><use href="#k" x="140.81" y="151.57"/><use href="#k" x="139.79" y="151.03"/><use href="#k" x="140.94" y="151.03"/><use href="#k" x="139.89" y="150.48"/><use href="#k" x="141.07" y="150.48"/><use href="#k" x="140.00" y="149.92"/><use href="#k" x="141.20" y="149.92"/><use href="#k" x="140.13" y="149.35"/><use href="#k" x="141.33" y="149.35"/><use href="#k" x="140.26" y="148.78"/><use href="#k" x="141.46" y="148.78"/><use href="#k" x="140.39" y="148.22"/><use href="#k" x="141.59" y="148.22"/><use href="#k" x="140.52" y="147.66"/><use href="#k" x="141.72" y="147.66"/><use href="#k" x="140.65" y="147.12"/><use href="#k" x="141.85" y="147.12"/><use href="#k" x="142.9" y="146.6"/><use href="#k" x="142.9" y="146.0"/><use href="#k" x="142.9" y="145.4"/><use href="#k" x="142.9" y="144.8"/><use href="#k" x="142.9" y="144.2"/><use href="#k" x="143.4" y="142.95"/><use href="#k" x="143.4" y="140.15"/></g>
<g fill="#fff" stroke="#7fe3ea" stroke-width="1.35"><circle cx="89.08" cy="324.40" r="3.75"/><circle cx="89.65" cy="322.70" r="3.75"/><circle cx="90.22" cy="321.00" r="3.75"/><circle cx="90.83" cy="319.20" r="3.75"/><circle cx="91.48" cy="317.30" r="3.75"/><circle cx="92.15" cy="315.30" r="3.75"/><circle cx="93.09" cy="312.50" r="3.75"/><circle cx="94.92" cy="307.00" r="3.75"/><circle cx="97.32" cy="299.50" r="3.75"/><circle cx="99.99" cy="290.70" r="3.75"/><circle cx="102.23" cy="282.80" r="3.75"/><circle cx="104.53" cy="274.10" r="3.75"/><circle cx="106.94" cy="264.40" r="3.75"/><circle cx="109.12" cy="255.20" r="3.75"/><circle cx="111.16" cy="246.50" r="3.75"/><circle cx="113.15" cy="238.10" r="3.75"/><circle cx="115.27" cy="229.60" r="3.75"/><circle cx="117.48" cy="221.30" r="3.75"/><circle cx="119.51" cy="214.20" r="3.75"/><circle cx="121.85" cy="206.60" r="3.75"/><circle cx="124.21" cy="199.50" r="3.75"/><circle cx="126.58" cy="192.80" r="3.75"/><circle cx="128.71" cy="187.10" r="3.75"/><circle cx="130.65" cy="182.10" r="3.75"/><circle cx="132.63" cy="177.10" r="3.75"/><circle cx="134.78" cy="171.80" r="3.75"/><circle cx="136.85" cy="166.70" r="3.75"/><circle cx="138.87" cy="161.70" r="3.75"/><circle cx="140.57" cy="157.40" r="3.75"/><circle cx="142.06" cy="153.50" r="3.75"/></g>
<path d="M168.50,108.85 L173.55,113.90 L168.50,118.95 L163.45,113.90Z M181.90,97.65 L186.95,102.70 L181.90,107.75 L176.85,102.70Z M203.30,84.65 L208.35,89.70 L203.30,94.75 L198.25,89.70Z M243.70,70.05 L248.75,75.10 L243.70,80.15 L238.65,75.10Z M253.60,66.95 L258.65,72.00 L253.60,77.05 L248.55,72.00Z M274.00,62.15 L279.05,67.20 L274.00,72.25 L268.95,67.20Z M298.60,55.55 L303.65,60.60 L298.60,65.65 L293.55,60.60Z M318.10,51.55 L323.15,56.60 L318.10,61.65 L313.05,56.60Z M340.20,45.95 L345.25,51.00 L340.20,56.05 L335.15,51.00Z M364.70,41.55 L369.75,46.60 L364.70,51.65 L359.65,46.60Z M378.10,36.95 L383.15,42.00 L378.10,47.05 L373.05,42.00Z M404.20,32.95 L409.25,38.00 L404.20,43.05 L399.15,38.00Z M426.20,28.35 L431.25,33.40 L426.20,38.45 L421.15,33.40Z M445.60,24.35 L450.65,29.40 L445.60,34.45 L440.55,29.40Z" fill="#fff" stroke="#22c3f0" stroke-width="1.3"/>
<g fill="#fff" stroke="#356fa8" stroke-width="1.15"><rect x="260.35" y="60.95" width="7.1" height="7.1"/><rect x="274.15" y="57.15" width="7.1" height="7.1"/><rect x="296.25" y="52.15" width="7.1" height="7.1"/><rect x="317.65" y="46.85" width="7.1" height="7.1"/><rect x="328.55" y="44.95" width="7.1" height="7.1"/><rect x="339.15" y="43.05" width="7.1" height="7.1"/><rect x="349.65" y="40.95" width="7.1" height="7.1"/><rect x="360.55" y="39.95" width="7.1" height="7.1"/><rect x="379.15" y="36.85" width="7.1" height="7.1"/><rect x="400.65" y="33.45" width="7.1" height="7.1"/><rect x="442.35" y="28.35" width="7.1" height="7.1"/></g>
<rect x="77.7" y="11.0" width="433.0" height="318.6" fill="none" stroke="#000" stroke-width="2.3"/>
<path d="M131.82,329.6 v-4 M131.82,11.0 v4 M185.95,329.6 v-7 M185.95,11.0 v7 M240.07,329.6 v-4 M240.07,11.0 v4 M294.20,329.6 v-7 M294.20,11.0 v7 M348.32,329.6 v-4 M348.32,11.0 v4 M402.45,329.6 v-7 M402.45,11.0 v7 M456.57,329.6 v-4 M456.57,11.0 v4 M77.7,291.65 h4 M510.7,291.65 h-4 M77.7,253.70 h7 M510.7,253.70 h-7 M77.7,215.75 h4 M510.7,215.75 h-4 M77.7,177.80 h7 M510.7,177.80 h-7 M77.7,139.85 h4 M510.7,139.85 h-4 M77.7,101.90 h7 M510.7,101.90 h-7 M77.7,63.95 h4 M510.7,63.95 h-4 M77.7,26.00 h7 M510.7,26.00 h-7" stroke="#000" stroke-width="1.7" fill="none"/>
<text x="77.7" y="349.4" font-size="14.6" text-anchor="middle">0</text>
<text x="185.9" y="349.4" font-size="14.6" text-anchor="middle">500</text>
<text x="294.2" y="349.4" font-size="14.6" text-anchor="middle">1000</text>
<text x="402.4" y="349.4" font-size="14.6" text-anchor="middle">1500</text>
<text x="510.7" y="349.4" font-size="14.6" text-anchor="middle">2000</text>
<text x="70.3" y="334.6" font-size="14.6" text-anchor="end">0</text>
<text x="70.3" y="258.7" font-size="14.6" text-anchor="end">50</text>
<text x="70.3" y="182.8" font-size="14.6" text-anchor="end">100</text>
<text x="70.3" y="106.9" font-size="14.6" text-anchor="end">150</text>
<text x="70.3" y="30.9" font-size="14.6" text-anchor="end">200</text>
<text x="294.9" y="376.1" font-size="17.35" text-anchor="middle">Temperature / K</text>
<text transform="translate(26.1,180.9) rotate(-90)" font-size="16.7" text-anchor="middle">Heat capacity / J/mol·K</text>
<circle cx="212.6" cy="174" r="3.75" fill="#fff" stroke="#7fe3ea" stroke-width="1.35"/>
<path d="M212.60,188.65 L217.65,193.70 L212.60,198.75 L207.55,193.70Z" fill="#fff" stroke="#22c3f0" stroke-width="1.3"/>
<rect x="209.0" y="209.4" width="7.2" height="7.2" fill="#fff" stroke="#356fa8" stroke-width="1.2"/>
<path d="M212.60,227.40 L217.40,235.40 L207.80,235.40Z" fill="#fff" stroke="#36107a" stroke-width="1.2"/>
<path d="M194.7,252.0 H230.7" stroke="#1f2a5e" stroke-width="1.6"/>
<path d="M194.7,271.8 H230.7" stroke="#6e6e6e" stroke-width="1.4" stroke-dasharray="8.1 8.2"/>
<path d="M194.7,290.9 H227.4" stroke="#b9b9b9" stroke-width="1.4" stroke-dasharray="3.6 3.6"/>
<text x="234.6" y="178.8" font-size="15.45">King (1955)</text>
<text x="234.6" y="198.5" font-size="15.45">Bonnickson (1955)</text>
<text x="234.6" y="217.6" font-size="15.45">Richet and Fiquet (1991)</text>
<text x="234.6" y="236.6" font-size="15.45">Klemme and Ahrens (2007)</text>
<text x="234.6" y="256.8" font-size="15.45">This study (Richet and Fiquet 1991)</text>
<text x="234.6" y="276.6" font-size="15.45">This study (Berman and Brown 1985)</text>
<text x="234.6" y="295.7" font-size="15.45">This study (Hass and Fisher 1976)</text>
</svg>
</body></html>
